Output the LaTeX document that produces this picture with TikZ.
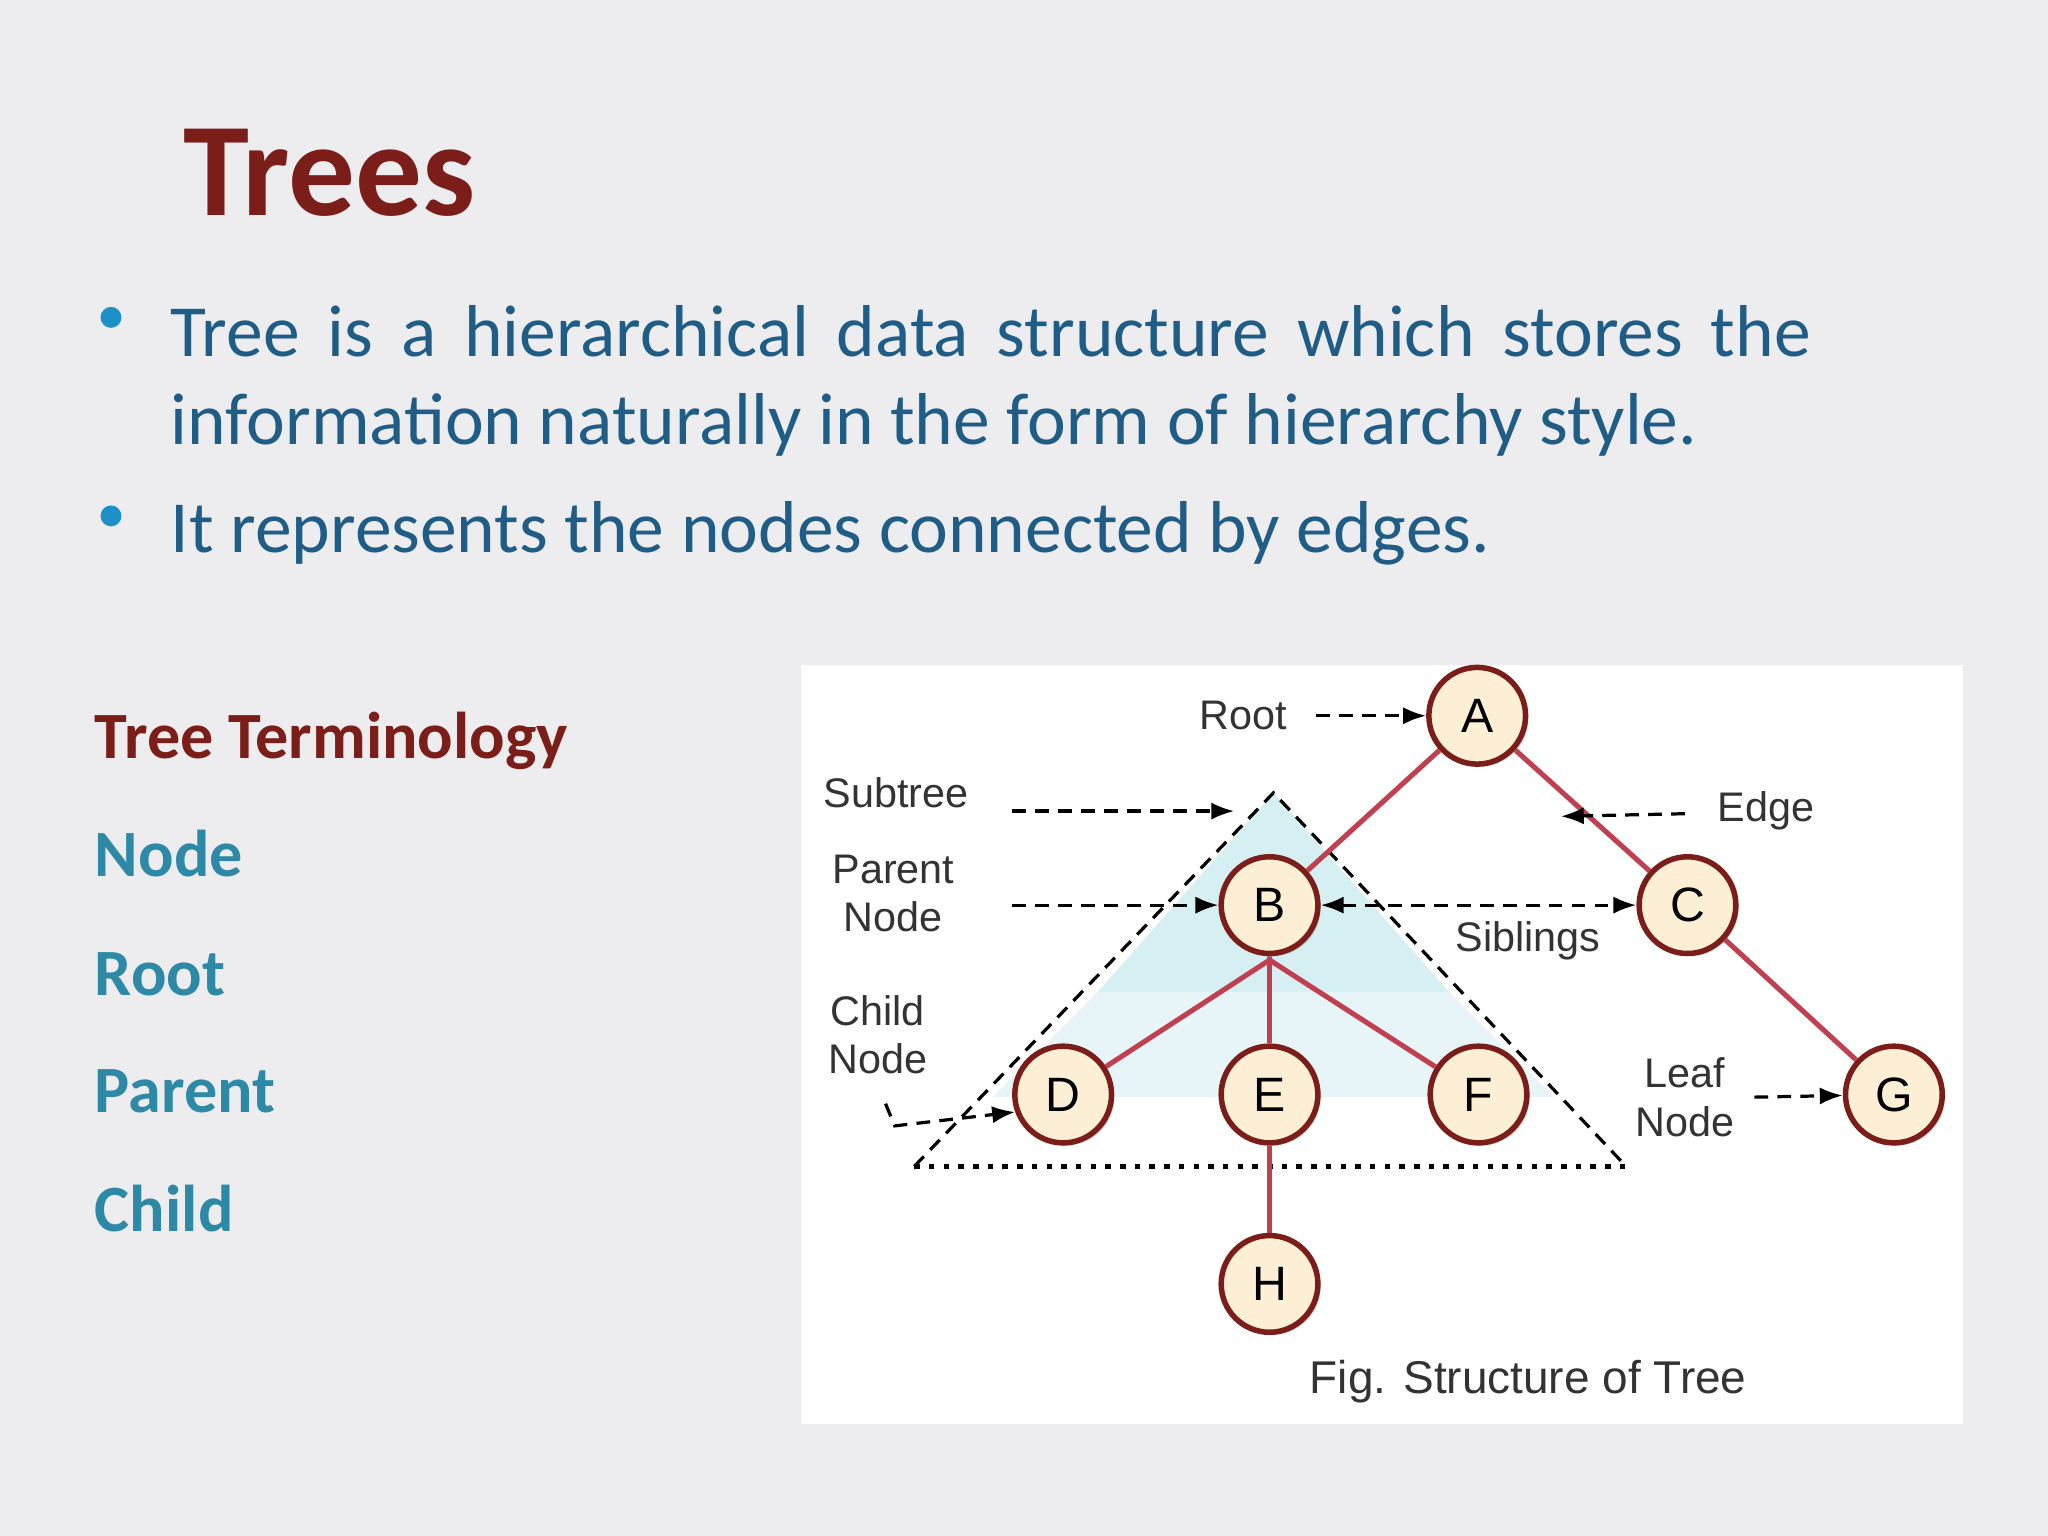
\documentclass[tikz,border=0pt]{standalone}
\usepackage{fontspec}
\setmainfont{Carlito}
\newfontfamily\dsans{Liberation Sans}
\usetikzlibrary{arrows.meta,shadows}
\definecolor{bg}{HTML}{EDEDEF}
\definecolor{ttl}{HTML}{7B1E1A}
\definecolor{body}{HTML}{1F5C86}
\definecolor{bul}{HTML}{1E90C8}
\definecolor{term}{HTML}{2E89A6}
\definecolor{edg}{HTML}{C04050}
\definecolor{ncirc}{HTML}{FCEFD6}
\definecolor{cyanf}{HTML}{D6EFF3}
\begin{document}
\begin{tikzpicture}[x=0.01cm,y=-0.01cm,
  tn/.style={circle,draw=ttl,line width=1.2pt,fill=ncirc,minimum size=0.74cm,inner sep=0pt,font=\dsans\fontsize{10.5}{11}\selectfont,drop shadow={opacity=0.35,shadow xshift=0.6pt,shadow yshift=-0.6pt}},
  lab/.style={font=\dsans\fontsize{9}{10.5}\selectfont,text=black!80,align=center},
  da/.style={densely dashed,line width=0.7pt,-{Latex[length=5pt]}},
  ed/.style={draw=edg,line width=1.1pt},
  trm/.style={font=\bfseries\fontsize{14.4}{14}\selectfont,text=term,anchor=base west}]
\useasboundingbox (0,0) rectangle (1568,1176);
\fill[bg] (0,0) rectangle (1568,1176);
\node[anchor=base west,font=\bfseries\fontsize{29}{29}\selectfont,text=ttl,inner sep=0] (title) at (140,165) {Trees};
\fill[bul] (85,243) circle (8);
\fill[bul] (85,395) circle (8);
\node[anchor=base west,inner sep=0,text=body,font=\fontsize{16}{19}\selectfont] (b1) at (130,273) {\makebox[12.55cm][s]{Tree is a hierarchical data structure which stores the}};
\node[anchor=base west,inner sep=0,text=body,font=\fontsize{16}{19}\selectfont] (b1b) at (130,340) {information naturally in the form of hierarchy style.};
\node[anchor=base west,inner sep=0,text=body,font=\fontsize{16}{19}\selectfont] (b2) at (130,423) {It represents the nodes connected by edges.};
\node[trm,text=ttl,inner sep=0] (tt) at (72,581) {Tree Terminology};
\node[trm,inner sep=0] (t1) at (72,671) {Node};
\node[trm,inner sep=0] (t2) at (72,762) {Root};
\node[trm,inner sep=0] (t3) at (72,852) {Parent};
\node[trm,inner sep=0] (t4) at (72,943) {Child};
% diagram
\fill[white] (613,509) rectangle (1503,1090);
\coordinate (ap) at (975,607);
\coordinate (bl) at (700,893);
\coordinate (br) at (1245,893);
\fill[cyanf] (ap) -- (840,760) -- (1110,760) -- cycle;
\fill[cyanf!60] (840,760) -- (1110,760) -- (1190,840) -- (760,840) -- cycle;
\draw[densely dashed,line width=0.7pt] (bl) -- (ap) -- (br);
\draw[dotted,line width=1.2pt] (bl) -- (br);
\node[tn] (A) at (1131,548) {A};
\node[tn] (B) at (972,693) {B};
\node[tn] (C) at (1292,693) {C};
\node[tn] (D) at (814,838) {D};
\node[tn] (E) at (972,838) {E};
\node[tn] (F) at (1132,838) {F};
\node[tn] (G) at (1450,838) {G};
\node[tn] (H) at (972,983) {H};
\draw[ed] (A) -- (B); \draw[ed] (A) -- (C);
\coordinate (bs) at (972,735);
\draw[ed] (B) -- (bs) -- (D); \draw[ed] (bs) -- (E); \draw[ed] (bs) -- (F);
\draw[ed] (C) -- (G); \draw[ed] (E) -- (H);
\node[lab] (lroot) at (952,548) {Root};
\node[lab] (lsub) at (686,607) {Subtree};
\node[lab] (lpar) at (684,684) {Parent\\Node};
\node[lab] (lchi) at (672,792) {Child\\Node};
\node[lab] (ledge) at (1352,621) {Edge};
\node[lab] (lsib) at (1170,720) {Siblings};
\node[lab] (lleaf) at (1290,840) {Leaf\\Node};
\node[lab,font=\dsans\fontsize{10}{12}\selectfont] (cap) at (1170,1058) {Fig. Structure of Tree};
\coordinate (s1) at (775,621); \coordinate (s2) at (945,621);
\draw[da] (s1) -- (s2);
\draw[da] (lroot.east) ++(10,0) -- (A);
\coordinate (p1) at (775,693);
\draw[da] (p1) -- (B);
\coordinate (c1) at (678,845);
\coordinate (c2) at (685,862);
\draw[da] (c1) -- (c2) -- (D.200);
\coordinate (e1) at (1290,623); \coordinate (e2) at (1195,625);
\draw[da] (e1) -- (e2);
\draw[densely dashed,line width=0.7pt,{Latex[length=5pt]}-{Latex[length=5pt]}] (B) -- (C);
\draw[da] (lleaf.east) ++(3,0) -- (G);
\end{tikzpicture}
\end{document}
